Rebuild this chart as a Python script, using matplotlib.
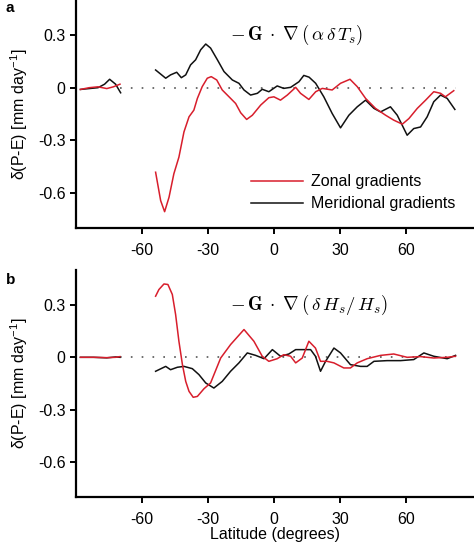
import matplotlib
matplotlib.use("Agg")
import matplotlib.pyplot as plt

plt.rcParams['font.family'] = ['Liberation Sans', 'DejaVu Sans']
plt.rcParams['mathtext.fontset'] = 'cm'

# ---------------- data (latitude, value) ----------------
# Panel a: -G . grad(alpha dT_s)
a_zonal_left_lat = [-88, -84, -80, -76, -73, -70]
a_zonal_left_val = [-0.01, 0.0, 0.005, -0.005, 0.005, 0.02]
a_merid_left_lat = [-88, -84, -80, -77, -74.7, -72, -69.7]
a_merid_left_val = [-0.01, -0.005, 0.0, 0.02, 0.048, 0.02, -0.029]

a_zonal_lat = [-53.8, -51.5, -49.7, -47.7, -45.5, -43.2, -40.9, -38.6, -36.4, -34.8, -32.6, -30.3,
               -28.5, -26.0, -23.5, -20.4, -17.4, -15.1, -12.4, -9.8, -6.0, -2.3, 0, 3.0, 6.1, 9.9,
               12.1, 15.9, 19.0, 22.0, 26.5, 30.3, 34.6, 37.9, 41.7, 46.2, 50.8, 54.5, 58.4, 61.4,
               65.2, 69.0, 72.7, 75.8, 78.0, 81.8]
a_zonal_val = [-0.482, -0.644, -0.707, -0.625, -0.491, -0.396, -0.252, -0.166, -0.128, -0.061, 0.006,
               0.054, 0.063, 0.044, -0.013, -0.052, -0.090, -0.143, -0.181, -0.157, -0.099, -0.057,
               -0.052, -0.071, -0.042, 0.002, -0.032, -0.067, -0.023, -0.004, -0.013, 0.025, 0.048,
               0.006, -0.061, -0.118, -0.157, -0.185, -0.208, -0.176, -0.118, -0.071, -0.023, -0.032,
               -0.052, -0.017]

a_merid_lat = [-53.8, -49.2, -47, -44.2, -42.1, -40.1, -37.9, -35.6, -33.3, -31.0, -28.8, -25.7,
               -22.7, -18.9, -15.9, -13.6, -10.6, -7.5, -5.3, -2.3, 1.5, 4.5, 7.6, 11.4, 13.6, 16.0,
               19.0, 22.7, 26.5, 30.3, 34.1, 37.9, 41.7, 45.5, 48.5, 53.0, 56.1, 59.1, 60.6, 63.6,
               66.7, 69.7, 72.7, 75.8, 78.8, 82.3]
a_merid_val = [0.101, 0.054, 0.073, 0.088, 0.057, 0.073, 0.130, 0.159, 0.216, 0.249, 0.226, 0.159,
               0.092, 0.044, 0.025, -0.013, -0.042, -0.032, -0.009, -0.023, 0.010, -0.004, 0.002,
               0.034, 0.070, 0.060, 0.025, -0.052, -0.147, -0.229, -0.157, -0.109, -0.071, -0.118,
               -0.138, -0.109, -0.157, -0.233, -0.271, -0.233, -0.224, -0.166, -0.080, -0.042,
               -0.061, -0.124]

# Panel b: -G . grad(dH_s / H_s)
b_zonal_left_lat = [-88, -82, -76, -72, -70]
b_zonal_left_val = [0.0, 0.0, -0.002, 0.0, 0.004]
b_merid_left_lat = [-88, -82, -76, -72, -70]
b_merid_left_val = [0.0, 0.0, -0.003, 0.002, 0.0]

b_zonal_lat = [-53.8, -52.3, -50, -48.2, -46.2, -44.7, -43.2, -41.6, -40.1, -38.6, -36.7, -34.8,
               -31.8, -28.8, -24.2, -19.7, -13.6, -9.1, -5.3, -2.3, 1.5, 4.5, 7.6, 9.9, 12.9, 15.9,
               18.9, 21.2, 24.2, 27.3, 31.8, 34.8, 37.9, 42.4, 48.5, 54.5, 60.6, 66.7, 72.7, 78.8,
               82.6]
b_zonal_val = [0.350, 0.388, 0.420, 0.417, 0.360, 0.245, 0.092, -0.042, -0.138, -0.195, -0.229,
               -0.224, -0.180, -0.147, -0.004, 0.073, 0.159, 0.092, 0.006, -0.023, -0.008, 0.015,
               0.006, -0.032, -0.004, 0.092, 0.053, -0.023, -0.023, -0.032, -0.061, -0.061, -0.032,
               -0.008, 0.011, 0.019, 0.0, 0.004, -0.004, 0.0, 0.006]

b_merid_lat = [-53.8, -49.2, -47, -43.9, -40.9, -37.1, -34.1, -31.0, -27.3, -23.5, -19.7, -15.9,
               -12.1, -8.3, -4.5, -0.7, 3.0, 6.8, 9.9, 13.6, 16.7, 18.9, 21.2, 23.5, 27.3, 30.3,
               34.8, 39.4, 42.4, 45.5, 51.5, 57.6, 63.6, 68.2, 72.7, 78.8, 82.6]
b_merid_val = [-0.080, -0.052, -0.071, -0.057, -0.052, -0.065, -0.099, -0.147, -0.176, -0.138,
               -0.080, -0.032, 0.025, 0.011, -0.008, 0.044, 0.006, 0.019, 0.044, 0.044, 0.044,
               0.006, -0.080, -0.023, 0.053, 0.025, -0.042, -0.052, -0.052, -0.023, -0.019, -0.019,
               -0.013, 0.025, 0.006, -0.008, 0.011]

x_ticks = [-60, -30, 0, 30, 60]
y_ticks = [0.3, 0, -0.3, -0.6]
y_ticklabels = ['0.3', '0', '-0.3', '-0.6']
zero_span = [-70, 83]

RED = '#d81e2c'
BLACK = '#111111'

W, H = 474, 550
fig = plt.figure(figsize=(W / 100, H / 100), dpi=100)
ax_a = fig.add_axes([76 / W, 1 - 228 / H, 1 - 76 / W, 228 / H])
ax_b = fig.add_axes([76 / W, 1 - 497 / H, 1 - 76 / W, (497 - 270) / H])

panels = [
    (ax_a, a_zonal_left_lat, a_zonal_left_val, a_merid_left_lat, a_merid_left_val,
     a_zonal_lat, a_zonal_val, a_merid_lat, a_merid_val,
     r'$-\,\mathbf{G}\;\cdot\;\nabla\,(\,\alpha\,\delta\,T_s)$', 'a', 0.555),
    (ax_b, b_zonal_left_lat, b_zonal_left_val, b_merid_left_lat, b_merid_left_val,
     b_zonal_lat, b_zonal_val, b_merid_lat, b_merid_val,
     r'$-\,\mathbf{G}\;\cdot\;\nabla\,(\,\delta\,H_s/\,H_s)$', 'b', 0.585),
]

for (ax, zl_lat, zl_val, ml_lat, ml_val, z_lat, z_val, m_lat, m_val, title, letter, tx) in panels:
    ax.plot(zero_span, [0, 0], color='#555555', lw=1.2, ls=(0, (1, 5.5)), zorder=1)
    ax.plot(ml_lat, ml_val, color=BLACK, lw=1.1, zorder=2)
    ax.plot(zl_lat, zl_val, color=RED, lw=1.1, zorder=3)
    lz, = ax.plot(z_lat, z_val, color=RED, lw=1.1, zorder=3, label='Zonal gradients')
    lm, = ax.plot(m_lat, m_val, color=BLACK, lw=1.1, zorder=2, label='Meridional gradients')
    ax.set_xlim(-90, 91)
    ax.set_ylim(-0.8, 0.5)
    ax.set_xticks(x_ticks)
    ax.set_xticklabels([str(v) for v in x_ticks])
    ax.set_yticks(y_ticks)
    ax.set_yticklabels(y_ticklabels)
    for s in ['top', 'right']:
        ax.spines[s].set_visible(False)
    for s in ['left', 'bottom']:
        ax.spines[s].set_linewidth(1.6)
    ax.tick_params(direction='out', length=4.5, width=1.4, labelsize=11.5)
    ax.tick_params(axis='x', pad=6)
    ax.tick_params(axis='y', pad=3)
    ax.set_ylabel(r'δ(P-E) [mm day$^{\mathregular{-1}}$]', fontsize=11.5, labelpad=6)
    ax.text(tx, 0.845, title, transform=ax.transAxes, fontsize=13.5, ha='center', va='center')
    fig.text(6 / W, 1 - 8 / H if letter == 'a' else 1 - 280 / H, letter,
             fontsize=11, fontweight='bold', ha='left', va='center')

ax_a.legend(handles=[lz, lm], loc='lower right', bbox_to_anchor=(0.97, 0.045), frameon=False,
            fontsize=11.5, handlelength=3.3, handletextpad=0.5, labelspacing=0.45, borderaxespad=0.0)
ax_b.set_xlabel('Latitude (degrees)', fontsize=11.5, labelpad=0)

fig.savefig('out.png', dpi=100)
